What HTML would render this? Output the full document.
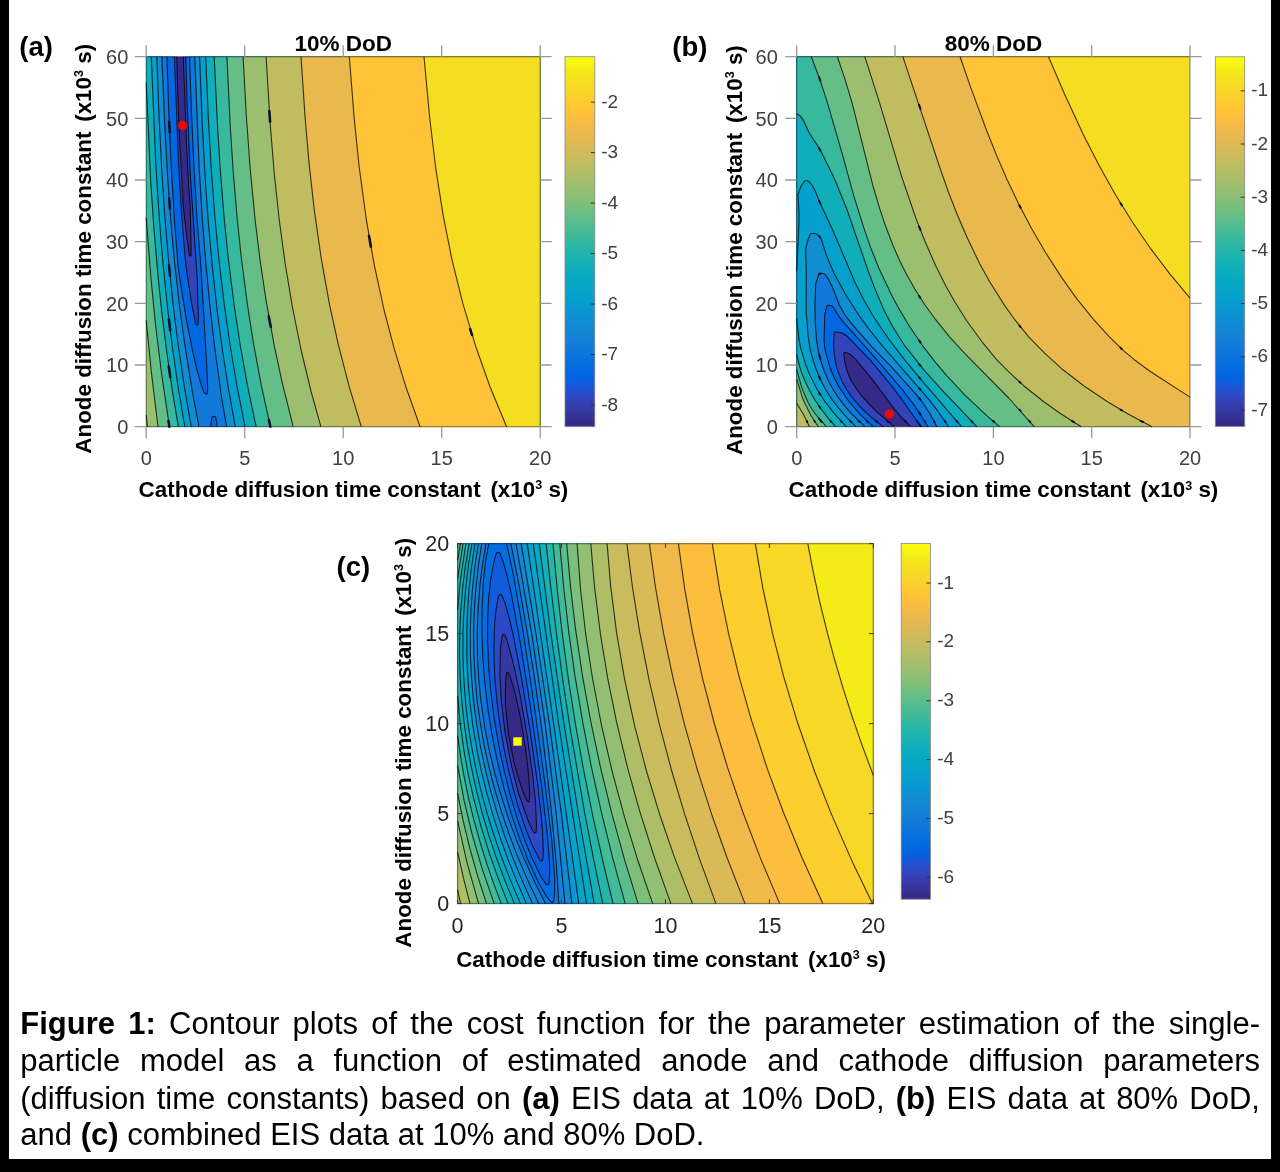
<!DOCTYPE html>
<html><head><meta charset="utf-8"><title>Figure 1</title>
<style>
html,body{margin:0;padding:0;background:#fff;}
body{width:1280px;height:1172px;position:relative;overflow:hidden;font-family:"Liberation Sans",Arial,sans-serif;}
.bl{position:absolute;background:#000;}
svg{position:absolute;left:0;top:0;}
.cl{position:absolute;left:20.3px;width:1239.7px;font-size:31px;line-height:36px;color:#000;white-space:nowrap;}
</style></head><body>
<svg width="1280" height="1000" viewBox="0 0 1280 1000">
<defs><linearGradient id="par" x1="0" y1="1" x2="0" y2="0"><stop offset="0.0078" stop-color="#352a87"/><stop offset="0.0234" stop-color="#363093"/><stop offset="0.0391" stop-color="#3637a0"/><stop offset="0.0547" stop-color="#353dad"/><stop offset="0.0703" stop-color="#3243ba"/><stop offset="0.0859" stop-color="#2c4ac7"/><stop offset="0.1016" stop-color="#2053d4"/><stop offset="0.1172" stop-color="#0f5cdd"/><stop offset="0.1328" stop-color="#0363e1"/><stop offset="0.1484" stop-color="#0268e1"/><stop offset="0.1641" stop-color="#046de0"/><stop offset="0.1797" stop-color="#0871de"/><stop offset="0.1953" stop-color="#0d75dc"/><stop offset="0.2109" stop-color="#1079da"/><stop offset="0.2266" stop-color="#127dd8"/><stop offset="0.2422" stop-color="#1481d6"/><stop offset="0.2578" stop-color="#1485d4"/><stop offset="0.2734" stop-color="#1389d3"/><stop offset="0.2891" stop-color="#108ed2"/><stop offset="0.3047" stop-color="#0c93d2"/><stop offset="0.3203" stop-color="#0998d1"/><stop offset="0.3359" stop-color="#079ccf"/><stop offset="0.3516" stop-color="#06a0cd"/><stop offset="0.3672" stop-color="#06a4ca"/><stop offset="0.3828" stop-color="#06a7c6"/><stop offset="0.3984" stop-color="#07a9c2"/><stop offset="0.4141" stop-color="#0aacbe"/><stop offset="0.4297" stop-color="#0faeb9"/><stop offset="0.4453" stop-color="#15b1b4"/><stop offset="0.4609" stop-color="#1db3af"/><stop offset="0.4766" stop-color="#25b5a9"/><stop offset="0.4922" stop-color="#2eb7a4"/><stop offset="0.5078" stop-color="#38b99e"/><stop offset="0.5234" stop-color="#42bb98"/><stop offset="0.5391" stop-color="#4dbc92"/><stop offset="0.5547" stop-color="#59bd8c"/><stop offset="0.5703" stop-color="#65be86"/><stop offset="0.5859" stop-color="#71bf80"/><stop offset="0.6016" stop-color="#7cbf7b"/><stop offset="0.6172" stop-color="#87bf77"/><stop offset="0.6328" stop-color="#92bf73"/><stop offset="0.6484" stop-color="#9cbf6f"/><stop offset="0.6641" stop-color="#a5be6b"/><stop offset="0.6797" stop-color="#aebe67"/><stop offset="0.6953" stop-color="#b7bd64"/><stop offset="0.7109" stop-color="#c0bc60"/><stop offset="0.7266" stop-color="#c8bc5d"/><stop offset="0.7422" stop-color="#d1bb59"/><stop offset="0.7578" stop-color="#d9ba56"/><stop offset="0.7734" stop-color="#e1b952"/><stop offset="0.7891" stop-color="#e9b94e"/><stop offset="0.8047" stop-color="#f1b94a"/><stop offset="0.8203" stop-color="#f8bb44"/><stop offset="0.8359" stop-color="#fdbe3d"/><stop offset="0.8516" stop-color="#ffc337"/><stop offset="0.8672" stop-color="#fec832"/><stop offset="0.8828" stop-color="#fcce2e"/><stop offset="0.8984" stop-color="#fad32a"/><stop offset="0.9141" stop-color="#f7d826"/><stop offset="0.9297" stop-color="#f5de21"/><stop offset="0.9453" stop-color="#f5e41d"/><stop offset="0.9609" stop-color="#f5eb18"/><stop offset="0.9766" stop-color="#f6f313"/><stop offset="0.9922" stop-color="#f9fb0e"/></linearGradient></defs>
<g><rect x="146.2" y="56.7" width="394" height="370" fill="#352a87"/>
<path fill="#3243ba" fill-rule="evenodd" d="M146.2 56.7L176.8 56.7L177.2 77.8L179.2 130.8L183.2 205.9L187.2 240.8L189.5 255.7L190.2 256.1L191 255.7L191.1 247.7L190.2 206.7L188.6 184.7L186.6 145.7L183.3 56.7L540.2 56.7L540.2 426.7L146.2 426.7L146.2 57.7Z"/>
<path fill="#0268e1" fill-rule="evenodd" d="M146.2 56.7L174.4 56.7L178.5 162.7L181.5 212.7L184.6 251.7L186.2 267.9L191.6 303.7L195.5 322.7L196.3 324.7L197.2 325.1L198 324.7L198.3 315.7L197.2 278.7L190.2 172.4L187.2 105.9L185.7 56.7L540.2 56.7L540.2 426.7L146.2 426.7L146.2 57.7Z"/>
<path fill="#1079da" fill-rule="evenodd" d="M146.2 56.7L166.9 56.7L169.2 123.7L171.2 166.8L174.2 216.8L178.2 267.9L186.2 318.8L193.2 353.9L197.2 370.8L201.5 385.7L204.3 392.7L206.2 394.1L207.1 393.7L207.7 389.7L207 370.7L201 268.7L197.2 221.2L194.2 172.5L191.2 106L189.6 56.7L540.2 56.7L540.2 426.7L217 426.7L216.6 421.7L215.8 417.7L215.2 416.7L214.2 416.3L212.3 416.7L211.6 418.7L210.7 426.7L146.2 426.7L146.2 57.7Z"/>
<path fill="#108ed2" fill-rule="evenodd" d="M146.2 56.7L161.9 56.7L164.7 123.7L167.6 176.7L170.6 218.7L174.7 263.7L179.6 306.7L184.8 344.7L192.2 390.8L199 426.7L146.2 426.7L146.2 57.7ZM194.7 56.7L540.2 56.7L540.2 426.7L226.6 426.7L221.6 397.7L214.6 346.7L209.7 303.7L205.2 256.1L202.2 217L199.2 167.7L194.7 57.7Z"/>
<path fill="#06a0cd" fill-rule="evenodd" d="M146.2 56.7L156.8 56.7L158.9 112.7L161.6 167.7L164.6 213.7L168.2 257L173.2 305.6L178.2 345.5L184.2 386L191.2 426.7L146.2 426.7L146.2 57.7ZM199.6 56.7L540.2 56.7L540.2 426.7L235.3 426.7L228.2 387.2L222.2 348.5L217.2 310.8L212.2 265.6L208.2 220.6L205.2 178.2L202.2 123.1L199.6 57.7Z"/>
<path fill="#0faeb9" fill-rule="evenodd" d="M146.2 56.7L151.3 56.7L155.8 164.7L158.8 211.7L162.7 260.7L167.5 307.7L172.6 348.7L178.5 389.7L184.8 426.7L146.2 426.7L146.2 57.7ZM205.7 56.7L540.2 56.7L540.2 426.7L245 426.7L237.2 387.2L230.2 346L224.2 304.1L219.2 262L215.2 220.9L211.2 168.2L208.2 115.8L205.7 57.7Z"/>
<path fill="#38b99e" fill-rule="evenodd" d="M214.2 56.7L540.2 56.7L540.2 426.7L256.1 426.7L247.2 384.1L240.2 345L234.2 305.7L228.2 257.9L224.2 218.6L220.2 168.9L217.2 120.1L214.3 57.7ZM146.2 82.7L150.7 181.7L153.8 226.7L157.7 272.7L161.7 311.7L166.7 351.7L172.6 392.7L178.4 426.7L146.2 426.7L146.2 83.7Z"/>
<path fill="#65be86" fill-rule="evenodd" d="M226.9 56.7L540.2 56.7L540.2 426.7L270.4 426.7L261.2 384.8L253.2 341.6L247.2 303.1L241.2 256.8L237.2 218.8L233.2 171.2L230.2 125.2L226.9 57.7ZM146.2 217.7L150.7 275.7L155.6 325.7L161.7 374.7L169.4 426.7L146.2 426.7L146.2 218.7Z"/>
<path fill="#9cbf6f" fill-rule="evenodd" d="M243.1 56.7L540.2 56.7L540.2 426.7L293.2 426.7L282.2 382.7L274.2 345.3L266.2 301.1L260.2 261.1L255.2 220.6L250.2 169L246.2 114L243.1 57.7ZM146.2 320.7L152.2 379.7L158 426.7L146.2 426.7L146.2 321.7Z"/>
<path fill="#c0bc60" fill-rule="evenodd" d="M266.1 56.7L540.2 56.7L540.2 426.7L320.9 426.7L311.2 392L301.2 350.5L292.2 305.9L285.2 263.9L279.2 219.6L274.2 172.7L270.2 124L266.1 57.7ZM146.2 415.7L147.5 426.7L146.2 426.7L146.2 416.7Z"/>
<path fill="#e9b94e" fill-rule="evenodd" d="M301 56.7L540.2 56.7L540.2 426.7L361.3 426.7L349.2 386.7L338.2 344.1L329.2 302.8L321.2 258.2L314.2 209.3L309.2 164.6L305.2 118.7L301.1 57.7Z"/>
<path fill="#ffc337" fill-rule="evenodd" d="M349.3 56.7L540.2 56.7L540.2 426.7L420.1 426.7L406.2 387.8L394.2 348.7L384.2 310.5L374.2 264.6L366.2 218.8L359.2 167L354.2 118.4L349.4 57.7Z"/>
<path fill="#f5de21" fill-rule="evenodd" d="M424 56.7L540.2 56.7L540.2 426.7L506.6 426.7L497.2 404.7L488.5 382.7L480.2 359.7L472.6 336.7L463.7 306.7L455.7 275.7L448.5 243.7L442.3 210.7L436.9 176.7L432.3 141.7L428.2 103.7L424.1 57.7Z"/>
<path fill="none" stroke="#000" stroke-opacity="0.75" stroke-width="1.1" stroke-linejoin="round" d="M176.8 56.7L177.2 77.8L179.2 130.8L183.2 205.9L187.2 240.8L189.5 255.7L190.2 256.1L191 255.7L191.1 247.7L190.2 206.7L188.6 184.7L186.6 145.7L183.3 56.7M174.4 56.7L178.5 162.7L181.5 212.7L184.6 251.7L186.2 267.9L191.6 303.7L195.5 322.7L196.3 324.7L197.2 325.1L198 324.7L198.3 315.7L197.2 278.7L190.2 172.4L187.2 105.9L185.7 56.7M166.9 56.7L169.2 123.7L171.2 166.8L174.2 216.8L178.2 267.9L186.2 318.8L193.2 353.9L197.2 370.8L201.5 385.7L204.3 392.7L206.2 394.1L207.1 393.7L207.7 389.7L207 370.7L201 268.7L197.2 221.2L194.2 172.5L191.2 106L189.6 56.7M217 426.7L216.6 421.7L215.8 417.7L215.2 416.7L214.2 416.3L212.3 416.7L211.6 418.7L210.7 426.7M161.9 56.7L164.7 123.7L167.6 176.7L170.6 218.7L174.7 263.7L179.6 306.7L184.8 344.7L192.2 390.8L199 426.7M226.6 426.7L221.6 397.7L214.6 346.7L209.7 303.7L205.2 256.1L202.2 217L199.2 167.7L194.7 56.7M156.8 56.7L158.9 112.7L161.6 167.7L164.6 213.7L168.2 257L173.2 305.6L178.2 345.5L184.2 386L191.2 426.7M235.3 426.7L228.2 387.2L222.2 348.5L217.2 310.8L212.2 265.6L208.2 220.6L205.2 178.2L202.2 123.1L199.6 56.7M151.3 56.7L155.8 164.7L158.8 211.7L162.7 260.7L167.5 307.7L172.6 348.7L178.5 389.7L184.8 426.7M245 426.7L237.2 387.2L230.2 346L224.2 304.1L219.2 262L215.2 220.9L211.2 168.2L208.2 115.8L205.7 56.7M146.2 82.6L150.7 181.7L153.8 226.7L157.7 272.7L161.7 311.7L166.7 351.7L172.6 392.7L178.4 426.7M256.1 426.7L247.2 384.1L240.2 345L234.2 305.7L228.2 257.9L224.2 218.6L220.2 168.9L217.2 120.1L214.2 56.7M146.2 217.5L150.7 275.7L155.6 325.7L161.7 374.7L169.4 426.7M270.4 426.7L261.2 384.8L253.2 341.6L247.2 303.1L241.2 256.8L237.2 218.8L233.2 171.2L230.2 125.2L226.9 56.7M146.2 320.4L151.2 370.9L158 426.7M293.2 426.7L282.2 382.7L274.2 345.3L266.2 301.1L260.2 261.1L255.2 220.6L250.2 169L246.2 114L243.1 56.7M146.2 415.2L147.5 426.7M320.9 426.7L311.2 392L301.2 350.5L292.2 305.9L285.2 263.9L279.2 219.6L274.2 172.7L270.2 124L266.1 56.7M361.3 426.7L349.2 386.7L338.2 344.1L329.2 302.8L321.2 258.2L314.2 209.3L309.2 164.6L305.2 118.7L301 56.7M420.1 426.7L406.2 387.8L394.2 348.7L384.2 310.5L374.2 264.6L366.2 218.8L359.2 167L354.2 118.4L349.3 56.7M506.6 426.7L490 386.7L475.5 345.7L462.9 303.7L452.2 260.7L443.2 215.7L435.8 168.7L429.8 118.7L424 56.7"/>
<path fill="none" stroke="#06102e" stroke-width="2.5" stroke-linecap="round" stroke-linejoin="round" d="M169.2 122L169.7 132.4M169.2 198.4L169.9 208.7M169 265L170 276M168.9 319.4L170.2 330.4M168.7 366.4L170.3 377.4M168.5 421L169.4 426.7M270.4 426.7L268.9 420M270.8 327L268.8 316.4M270.1 121.7L269.3 111M370.9 246.7L369 235.7M472 335L470.2 329.1"/></g>
<g><rect x="796.7" y="56.7" width="393.3" height="370" fill="#352a87"/>
<path fill="#3243ba" fill-rule="evenodd" d="M796.7 56.7L1190 56.7L1190 426.7L910.8 426.7L901.9 417.7L894.1 408.7L871.7 378.7L855.1 358.7L849.7 354L844.7 352.3L843.8 352.7L844.7 361.4L846.7 369.7L850.7 379.7L855.7 387.8L860.7 394.8L871.5 406.7L878.7 413.7L894.3 426.7L796.7 426.7L796.7 57.7Z"/>
<path fill="#0268e1" fill-rule="evenodd" d="M796.7 56.7L1190 56.7L1190 426.7L921 426.7L902.7 400.7L890.7 384.7L870.7 360.7L846.6 335.7L841.3 332.7L834.7 331.7L834.2 332.7L833.6 342.7L833.7 348.4L834.7 357.7L835.7 363.7L837.7 370.7L842.7 382.9L850.7 395.8L860.7 407.5L871.7 417.7L883.4 426.7L796.7 426.7L796.7 57.7Z"/>
<path fill="#1079da" fill-rule="evenodd" d="M796.7 56.7L1190 56.7L1190 426.7L928.1 426.7L915.3 406.7L902.3 389.7L881.1 364.7L843.1 321.7L839.2 316.7L833.6 307.7L831.5 305.7L828.7 305.3L827 305.7L824.7 314.7L824.1 340.7L824.6 346.7L825.7 352.3L830.3 368.7L834.2 377.7L838.3 385.7L848.3 400.7L859.4 413.7L873 426.7L796.7 426.7L796.7 57.7Z"/>
<path fill="#108ed2" fill-rule="evenodd" d="M796.7 56.7L1190 56.7L1190 426.7L936.8 426.7L932.2 417.7L926.8 408.7L922.7 402.7L915.7 393.8L891.2 366.7L871.7 346.6L856.7 329.7L847.7 318.7L843.7 312.8L839.2 304.7L832.7 287.7L828.7 279.4L825.2 274.7L824 273.7L821.7 273.2L819.5 273.7L818.8 274.7L815.7 283.7L814.9 305.7L815.2 321.7L816.6 340.7L818.2 350.7L821.1 361.7L824 370.7L828.4 380.7L832.6 388.7L837.7 396.7L843.6 404.7L850.4 412.7L864.8 426.7L796.7 426.7L796.7 57.7Z"/>
<path fill="#06a0cd" fill-rule="evenodd" d="M796.7 56.7L1190 56.7L1190 426.7L948.6 426.7L938.2 411.7L929 399.7L881.3 344.7L869.4 329.7L859.8 316.7L845.7 294.8L833.8 272.7L826.2 254.7L821.1 238.7L817.4 234.7L815.6 233.7L813.7 233.3L810.8 233.7L810 234.7L807.7 240.7L805.6 249.7L806.3 270.7L806.2 311.7L808.2 336.7L810 348.7L813.2 360.7L816.2 369.7L821 380.7L825.2 388.7L832.1 399.7L838.2 407.7L846 416.7L855.9 426.7L796.7 426.7L796.7 57.7Z"/>
<path fill="#0faeb9" fill-rule="evenodd" d="M796.7 56.7L1190 56.7L1190 426.7L961.5 426.7L922.7 381.7L903.7 358.7L889.2 339.7L872.9 315.7L863.7 299.7L854.7 281.7L831.7 227.7L820.7 204.6L815.1 190.7L812.5 185.7L810.1 182.7L807.7 180.8L804.7 180.8L801.2 185.7L797.9 194.7L799 212.7L799 221.7L796.7 271.4L796.7 57.7ZM796.7 318.7L799 339.7L800.7 348.2L805.7 364.8L809.7 374.8L816.7 388.7L825 401.7L834.3 413.7L846.2 426.7L796.7 426.7L796.7 319.7Z"/>
<path fill="#38b99e" fill-rule="evenodd" d="M796.7 56.7L1190 56.7L1190 426.7L976.8 426.7L929.7 376.7L913.7 357.5L904.7 345.7L898.7 336.7L892.7 326.7L884.7 311.5L878.1 296.7L870.3 276.7L846.7 208.7L835.4 180.7L822.7 154.7L818.7 147.5L809.2 132.7L803.6 120.7L799.8 115.7L797.7 114.1L796.7 113.9L796.7 57.7ZM796.7 354.7L799.7 366.9L801.7 372.9L805.7 382.7L809.7 390.7L814.8 399.7L820.7 408.5L827.7 417.7L835.4 426.7L796.7 426.7L796.7 355.7Z"/>
<path fill="#65be86" fill-rule="evenodd" d="M811.3 56.7L1190 56.7L1190 426.7L999.6 426.7L986.7 415.7L973.7 403.7L958.7 388.7L946.7 375.7L931.7 357.6L919.7 341.6L909.7 326.7L900.7 311.8L890.7 293.3L882.7 276.7L872.7 252.8L862.7 224.6L853.7 195.6L842.2 153.7L827.4 102.7L820 79.7L811.7 57.7ZM796.7 370.7L801.7 387.6L807.7 401.7L811.7 408.7L815.7 414.5L826.3 426.7L796.7 426.7L796.7 371.7Z"/>
<path fill="#9cbf6f" fill-rule="evenodd" d="M837.4 56.7L1190 56.7L1190 426.7L1034.2 426.7L1008.7 398L964.9 353.7L949.3 336.7L935.7 319.7L924.8 304.7L914.7 288.8L905.7 272.7L899.7 260.7L892.7 244.8L884.7 223.7L879.7 208.7L872.7 184.8L852.3 103.7L846 82.7L837.7 57.6ZM796.7 379.7L802.1 396.7L805 403.7L811.1 415.7L818.3 426.7L796.7 426.7L796.7 380.7Z"/>
<path fill="#c0bc60" fill-rule="evenodd" d="M864.8 56.7L1190 56.7L1190 426.7L1081.3 426.7L1057.7 411.7L1034.7 394.7L1014.7 377.7L995.7 358.7L982.7 342.7L973.7 330.7L957.7 306.8L942.7 279.9L935.7 265.7L927.7 247.9L915.7 217.7L905.7 189.2L893.7 150.8L878.3 98.7L865.1 57.7ZM796.7 403.7L803.1 413.7L809.5 426.7L796.7 426.7L796.7 404.7Z"/>
<path fill="#e9b94e" fill-rule="evenodd" d="M902.8 56.7L1190 56.7L1190 426.7L1152 426.7L1136.7 418.7L1115.6 406.7L1099.8 396.7L1083.7 385.7L1061.7 368.7L1050.4 358.7L1037.7 346.3L1027.7 335.7L1018.6 324.7L1002.7 302.6L986.7 276.5L974.7 253.7L962.7 227.5L951.7 200.7L944.7 181.8L903.2 57.7Z"/>
<path fill="#ffc337" fill-rule="evenodd" d="M960.1 56.7L1190 56.7L1190 397.1L1150.7 371.7L1134.3 359.7L1123.5 350.7L1108.7 336.2L1093.7 319.7L1076.7 298.6L1061.7 277.6L1045.7 252.7L1031.7 228.7L1018.7 204L1006.7 178.7L996.7 155.6L986.7 130.8L969.7 84.6L960.4 57.7Z"/>
<path fill="#f5de21" fill-rule="evenodd" d="M1048.5 56.7L1190 56.7L1190 298.1L1169.6 273.7L1150.7 248.7L1132.2 221.7L1114.9 193.7L1098.7 164.8L1083.4 134.7L1064.8 94.7L1048.7 57.3Z"/>
<path fill="none" stroke="#000" stroke-opacity="0.75" stroke-width="1.1" stroke-linejoin="round" d="M910.8 426.7L901.9 417.7L894.1 408.7L871.7 378.7L855.1 358.7L849.7 354L844.7 352.3L843.8 352.7L844.7 361.4L846.7 369.7L850.7 379.7L855.7 387.8L860.7 394.8L871.5 406.7L878.7 413.7L894.3 426.7M921 426.7L902.7 400.7L890.7 384.7L870.7 360.7L846.6 335.7L841.3 332.7L834.7 331.7L834.2 332.7L833.6 342.7L833.7 348.4L834.7 357.7L835.7 363.7L837.7 370.7L842.7 382.9L850.7 395.8L860.7 407.5L871.7 417.7L883.4 426.7M928.1 426.7L915.3 406.7L902.3 389.7L881.1 364.7L843.1 321.7L839.2 316.7L833.6 307.7L831.5 305.7L828.7 305.3L827 305.7L824.7 314.7L824.1 340.7L824.6 346.7L825.7 352.3L830.3 368.7L834.2 377.7L838.3 385.7L848.3 400.7L859.4 413.7L873 426.7M936.8 426.7L932.2 417.7L926.8 408.7L922.7 402.7L915.7 393.8L891.2 366.7L871.7 346.6L856.7 329.7L847.7 318.7L843.7 312.8L839.2 304.7L832.7 287.7L828.7 279.4L825.2 274.7L824 273.7L821.7 273.2L819.5 273.7L818.8 274.7L815.7 283.7L814.9 305.7L815.2 321.7L816.6 340.7L818.2 350.7L821.1 361.7L824 370.7L828.4 380.7L832.6 388.7L837.7 396.7L843.6 404.7L850.4 412.7L864.8 426.7M948.6 426.7L938.2 411.7L929 399.7L881.3 344.7L869.4 329.7L859.8 316.7L845.7 294.8L833.8 272.7L826.2 254.7L821.1 238.7L817.4 234.7L815.6 233.7L813.7 233.3L810.8 233.7L810 234.7L807.7 240.7L805.6 249.7L806.3 270.7L806.2 311.7L808.2 336.7L810 348.7L813.2 360.7L816.2 369.7L821 380.7L825.2 388.7L832.1 399.7L838.2 407.7L846 416.7L855.9 426.7M796.7 318.5L799 339.7L800.7 348.2L805.7 364.8L809.7 374.8L816.7 388.7L825 401.7L834.3 413.7L846.2 426.7M961.5 426.7L922.7 381.7L903.7 358.7L889.2 339.7L872.9 315.7L863.7 299.7L854.7 281.7L831.7 227.7L820.7 204.6L815.1 190.7L812.5 185.7L810.1 182.7L807.7 180.8L804.7 180.8L801.2 185.7L797.9 194.7L799 212.7L799 221.7L796.7 271.4M796.7 354.1L799.7 366.9L801.7 372.9L805.7 382.7L809.7 390.7L814.8 399.7L820.7 408.5L827.7 417.7L835.4 426.7M976.8 426.7L940.7 388.7L923.7 369.7L904.7 345.7L892.7 326.7L883.7 309.4L875.3 289.7L868.1 270.7L846.7 208.7L834.7 179.2L822.7 154.7L818.7 147.5L809.2 132.7L803.6 120.7L799.8 115.7L797.7 114.1L796.7 113.9M796.7 369.7L801.7 387.6L807.7 401.7L811.7 408.7L815.7 414.5L826.3 426.7M999.6 426.7L986.7 415.7L964.7 394.8L946.7 375.7L935.7 362.7L922.7 345.8L909.7 326.7L897.7 306.6L890.7 293.3L878.7 267.7L870.7 247.6L864.7 230.6L853.7 195.6L842.2 153.7L827.1 101.7L819.6 78.7L811.3 56.7M796.7 379.2L802.1 396.7L805 403.7L811.1 415.7L818.3 426.7M1034.2 426.7L1008.7 398L964.9 353.7L949.3 336.7L935.7 319.7L924.8 304.7L914.7 288.8L905.7 272.7L899.7 260.7L892.7 244.8L884.7 223.7L879.7 208.7L872.7 184.8L852.3 103.7L845.1 79.7L837.4 56.7M796.7 403.2L803.6 414.7L809.5 426.7M1081.3 426.7L1060.7 413.7L1043.8 401.7L1023.7 385.7L1008.5 371.7L995.7 358.7L982.7 342.7L966.7 320.7L954.7 301.7L945.7 285.7L935.7 265.7L924.7 240.8L915.7 217.7L901.7 176.8L879.2 101.7L864.8 56.7M1152 426.7L1127.6 413.7L1107.5 401.7L1083.7 385.7L1061.7 368.7L1044.1 352.7L1028.7 336.8L1014.8 319.7L1004.7 305.6L989.7 281.7L979.7 263.7L967.7 238.8L957.7 215.7L948.7 192.8L940.7 170.3L902.8 56.7M1190 397.1L1150.7 371.7L1134.3 359.7L1123.5 350.7L1108.7 336.2L1093.7 319.7L1076.7 298.6L1061.7 277.6L1045.7 252.7L1031.7 228.7L1018.7 204L1006.7 178.7L996.7 155.6L986.7 130.8L969.7 84.6L960.1 56.7M1190 298.1L1169.6 273.7L1150.7 248.7L1132.2 221.7L1114.9 193.7L1098.7 164.7L1082.9 133.7L1064.4 93.7L1048.5 56.7"/>
<path fill="none" stroke="#06102e" stroke-width="2.0" stroke-linecap="round" stroke-linejoin="round" d="M906.2 422.2L905 420.9M887.1 420.9L888.7 422.2M920.5 426L919.3 424.2M917.7 422L917 421M875.7 420.9L877.2 422.1M920.4 414.4L919.1 412.4M925.3 422L924.6 420.9M866.7 420.9L868 422.2M820.4 273.5L819.1 274.2M819.1 354.4L820.3 359M920.5 399.7L919.3 398.2M934.5 422L934 421M858.5 420.9L859.7 422M820.2 237.4L819.3 236.4M819.1 376.7L820.3 379.4M920.3 389.5L919.2 388.2M945.5 422L944.7 420.9M850 420.9L851.3 422.1M819.1 392.7L820.3 394.7M840.7 420.9L841.7 422M820.3 203.7L819 200.7M920.3 378.9L919.1 377.5M957.5 422.1L956.5 420.9M819.1 406.2L820.3 408M830.3 420.9L831.2 422M820.4 150.4L819 148M920.4 365.7L919.1 364.2M972.5 422.2L971.3 420.9M819.1 418.7L820.3 420.2M820.9 420.9L821.9 422M820.3 80.7L819 77M920.4 342.4L919.2 340.7M994.2 422.1L992.7 420.8M814.3 421L815 422M920.3 298L919.1 296M1020.5 410.9L1019.5 409.7M1030.2 422L1029.3 420.9M806.9 421.1L807.3 422M920.4 230L919.1 226.7M1020.4 382.7L1019.5 381.9M1073.9 422.2L1072 421M920.4 108.7L919.1 104.7M1020.5 327L1019.5 325.7M1121.7 410.3L1120.6 409.7M1143 422L1140.7 420.8M1020.6 207.7L1019.4 205.4M1121.7 348.9L1120.5 347.8M1121.9 205.4L1120.5 203.2"/></g>
<g><rect x="457.6" y="543.6" width="415.7" height="360" fill="#352a87"/>
<path fill="#3637a0" fill-rule="evenodd" d="M457.6 543.6L873.3 543.6L873.3 903.6L457.6 903.6L457.6 544.6ZM507.6 672.1L506.8 672.6L505.9 677.6L505.3 694.6L505.6 707L508.6 734.6L509.3 736.6L509.6 740.7L510.3 742.6L511.6 751.3L516.6 772.3L522.6 790.9L525.8 798.6L527.6 801.6L528.6 802L529.3 801.6L529.6 788.6L527.6 764.5L524.6 742.4L520.6 719L516.6 699.8L512.6 684.3L508.4 672.6Z"/>
<path fill="#2c4ac7" fill-rule="evenodd" d="M457.6 543.6L873.3 543.6L873.3 903.6L457.6 903.6L457.6 544.6ZM503.6 634.1L502.7 634.6L502.1 636.6L500.6 646.8L499.8 673.6L501.2 700.6L505.1 732.6L510.1 759.6L517.6 789.8L524.6 811.7L529.6 824.2L533.8 832.6L534.6 832.9L536 832.6L536.2 831.6L536.5 818.6L534.6 792.1L529.1 748.6L523.1 711.6L516.6 677.5L509.6 648.6L506.4 638.6L504.5 634.6Z"/>
<path fill="#0f5cdd" fill-rule="evenodd" d="M457.6 543.6L873.3 543.6L873.3 903.6L457.6 903.6L457.6 544.6ZM500.6 594.1L498.9 595.6L498 598.6L495.6 613L494.6 624.2L493.9 646.6L494.2 664.6L495.3 683.6L497.2 703.6L500.1 725.6L503 743.6L507 763.6L512 784.6L517.3 803.6L522.6 820.1L528.6 836.4L535.6 852.2L539 858.6L540.7 860.6L541.6 861L542.5 860.6L543.1 856.6L543.2 848.6L542.6 831.2L538.6 791.9L532.2 744.6L523.6 690.4L514.6 641.7L507.6 611.8L504.2 600.6L501.5 594.6Z"/>
<path fill="#046de0" fill-rule="evenodd" d="M457.6 543.6L873.3 543.6L873.3 903.6L457.6 903.6L457.6 544.6ZM497.6 552.4L497 552.6L496 554.6L494.2 560.6L490.6 579.4L488.6 598.6L487.6 620.6L487.6 642.6L488.7 667.6L491 693.6L494.5 720.6L499 746.6L504.3 771.6L510.6 796.3L517.6 819.7L525.6 842.5L532.6 859.6L541.6 877.7L546.4 884.6L547.6 885L548.5 884.6L549.1 882.6L549.7 872.6L549.6 864.5L547.6 836.9L541.6 785.6L532.6 721.6L521.6 650.7L512.6 600.5L507.6 577.6L504.6 566.3L501 555.6L499.5 552.6L498.6 552.2Z"/>
<path fill="#0d75dc" fill-rule="evenodd" d="M457.6 543.6L488.6 543.6L488.4 546.6L487.6 548.6L487.5 551.6L486.6 554.5L485.6 561.2L483.6 578.7L482 608.6L481.9 632.6L482.9 658.6L485 684.6L488 709.6L492 734.6L497.2 760.6L504 788.6L511.5 814.6L519.6 838.6L528.6 861.5L538.6 882.8L546.6 896.6L550.6 901.6L551.6 902.5L552.6 902.5L553.4 901.6L553.8 899.6L554.6 893.6L554.6 876.5L551.6 838.7L545.6 788.2L534.1 704.6L522.6 628.3L513.6 576L506.6 543.6L873.3 543.6L873.3 903.6L457.6 903.6L457.6 544.6Z"/>
<path fill="#1481d6" fill-rule="evenodd" d="M457.6 543.6L485.9 543.6L482 567.6L479.9 585.6L478 610.6L477.2 634.6L477.6 660.4L478.6 677.6L480.6 698.6L484.6 726.3L488.6 747.3L494.6 772.7L500.6 794L508.2 817.6L517.1 841.6L524.9 860.6L534.9 882.6L545.5 903.6L457.6 903.6L457.6 544.6ZM510.9 543.6L873.3 543.6L873.3 903.6L558.8 903.6L556.3 863.6L552.1 818.6L547.1 772.6L541.4 726.6L534.6 678.7L527.1 631.6L519.1 585.6L511.1 544.6Z"/>
<path fill="#1389d3" fill-rule="evenodd" d="M457.6 543.6L481.8 543.6L478.6 564.1L475.6 591.1L474.2 611.6L473.6 633.6L473.9 655.6L475.1 678.6L477.2 700.6L480.2 722.6L484.1 744.6L489.1 767.6L494.6 789L501.6 812.3L509.6 835.6L517.6 856.6L527.6 880.1L538.6 903.6L457.6 903.6L457.6 544.6ZM516 543.6L873.3 543.6L873.3 903.6L565 903.6L556.1 812.6L545.1 723.6L531.6 632.9L516.2 544.6Z"/>
<path fill="#0998d1" fill-rule="evenodd" d="M457.6 543.6L478.4 543.6L475 565.6L472.5 588.6L470.9 610.6L470.2 633.6L470.4 655.6L471.5 677.6L473.4 699.6L476.4 722.6L480.1 744.6L484.9 767.6L490.3 789.6L497 812.6L504.2 834.6L513.1 858.6L522.1 880.6L532.5 903.6L457.6 903.6L457.6 544.6ZM521.2 543.6L873.3 543.6L873.3 903.6L571.9 903.6L561.2 812.6L549.2 722.6L536.1 634.6L521.4 544.6Z"/>
<path fill="#06a4ca" fill-rule="evenodd" d="M457.6 543.6L475 543.6L471.1 570.6L468.4 597.6L467 622.6L466.8 647.6L467.9 677.6L470 702.6L473 726.6L477.1 750.6L481 769.6L486.1 790.6L497.2 828.6L510 864.6L518.1 884.6L526.5 903.6L457.6 903.6L457.6 544.6ZM527.2 543.6L873.3 543.6L873.3 903.6L578.8 903.6L554.1 726.6L527.4 544.6Z"/>
<path fill="#07a9c2" fill-rule="evenodd" d="M457.6 543.6L471.9 543.6L468.6 564.2L465.6 589.6L463.6 615.6L462.8 645.6L463.4 670.6L464.6 691.6L467.6 720.3L471.6 746.6L475.6 767.4L479.6 785L484.6 804.4L490.6 824.9L503.6 862.7L511.6 883L520.4 903.6L457.6 903.6L457.6 544.6ZM533.2 543.6L873.3 543.6L873.3 903.6L586.5 903.6L558.6 723.2L533.3 544.6Z"/>
<path fill="#15b1b4" fill-rule="evenodd" d="M457.6 543.6L469 543.6L465 568.6L462.1 593.6L460.3 618.6L459.5 643.6L459.8 668.6L461.1 692.6L463.3 716.6L466.9 742.6L470.2 761.6L474.3 781.6L479.2 801.6L485 822.6L491.2 842.6L498.1 862.6L506.1 883.6L514.4 903.6L457.6 903.6L457.6 544.6ZM539.2 543.6L873.3 543.6L873.3 903.6L594.2 903.6L578.6 814.8L563.6 721.3L550.6 631.5L539.3 544.6Z"/>
<path fill="#25b5a9" fill-rule="evenodd" d="M457.6 543.6L465.9 543.6L460.6 578.6L457.6 609.8L457.6 544.6ZM546.1 543.6L873.3 543.6L873.3 903.6L602.8 903.6L593.6 859.2L584.6 812.5L569.6 725.2L562.6 678.7L556.6 634.8L550.6 585.6L546.2 544.6ZM457.6 696.6L460.2 723.6L464 750.6L468.1 773.6L474.2 800.6L481.1 826.6L489.1 852.6L498.3 878.6L508.1 903.6L457.6 903.6L457.6 697.6Z"/>
<path fill="#42bb98" fill-rule="evenodd" d="M457.6 543.6L463 543.6L457.6 578.7L457.6 544.6ZM553 543.6L873.3 543.6L873.3 903.6L613.1 903.6L603.6 864.5L592.6 815L582.6 764.6L575.6 725L568.6 680.5L562.6 636.4L557.6 593L553.1 544.6ZM457.6 735.6L460.6 756.6L464.5 778.6L468.7 798.6L473.8 819.6L479.6 840.7L486.1 861.6L493.3 882.6L501.2 903.6L457.6 903.6L457.6 736.6Z"/>
<path fill="#59bd8c" fill-rule="evenodd" d="M457.6 543.6L460.5 543.6L457.6 560.4L457.6 544.6ZM559.8 543.6L873.3 543.6L873.3 903.6L625.2 903.6L612.6 857.6L601.6 813.1L591.6 767.9L582.6 721.6L574.6 673.6L568.6 630.6L563.6 586.6L559.9 544.6ZM457.6 765.6L464.1 800.6L472.2 834.6L482.1 868.6L494.2 903.6L457.6 903.6L457.6 766.6Z"/>
<path fill="#7cbf7b" fill-rule="evenodd" d="M566.7 543.6L873.3 543.6L873.3 903.6L638.1 903.6L624.6 859.8L612.6 816.6L600.6 767.8L591.6 725.8L583.6 682.5L576.6 637L570.6 587.6L566.8 544.6ZM457.6 793.6L463.3 821.6L470.1 849.6L478.1 877.6L486.5 903.6L457.6 903.6L457.6 794.6Z"/>
<path fill="#92bf73" fill-rule="evenodd" d="M577.1 543.6L873.3 543.6L873.3 903.6L652.7 903.6L637.6 859.7L624.6 817.4L612.6 773.1L601.6 725.8L592.6 679L585.6 633.3L580.6 590L577.1 544.6ZM457.6 821.6L467 862.6L478.6 903.6L457.6 903.6L457.6 822.6Z"/>
<path fill="#aebe67" fill-rule="evenodd" d="M590.8 543.6L873.3 543.6L873.3 903.6L670.9 903.6L655.6 861L641.6 817.5L628.6 771.7L617.6 726.6L607.6 677.7L600.6 635.2L594.6 587.6L590.9 544.6ZM457.6 852.6L464.1 880.6L470 903.6L457.6 903.6L457.6 853.6Z"/>
<path fill="#c8bc5d" fill-rule="evenodd" d="M607.1 543.6L873.3 543.6L873.3 903.6L692.5 903.6L674.6 857.6L659.6 814.2L646.6 771.5L634.6 725.6L624.6 679.4L616.6 632.9L610.6 585.6L607.2 544.6ZM457.6 890.6L460.6 903.6L457.6 903.6L457.6 891.6Z"/>
<path fill="#d9ba56" fill-rule="evenodd" d="M626.9 543.6L873.3 543.6L873.3 903.6L715.9 903.6L699.6 859.1L684.6 813.9L671.6 770.5L659.4 724.6L649.2 680.6L640.5 636.6L632.6 588L627 544.6Z"/>
<path fill="#f1b94a" fill-rule="evenodd" d="M649.4 543.6L873.3 543.6L873.3 903.6L745 903.6L729.6 864.5L712.6 817.1L697.6 770.6L685.6 728.6L673.6 680.7L663.6 633.7L655.6 588L649.5 544.6Z"/>
<path fill="#fdbe3d" fill-rule="evenodd" d="M678.4 543.6L873.3 543.6L873.3 903.6L779.7 903.6L760.6 858.6L742.6 811.5L727.6 767.6L714.6 724.5L702.6 678.6L692.6 633.1L684.6 588.4L678.5 544.6Z"/>
<path fill="#fcce2e" fill-rule="evenodd" d="M712.3 543.6L873.3 543.6L873.3 903.6L822.8 903.6L808.6 872.7L791.6 832.9L776.6 794.5L761.6 752L748.6 710.7L736.6 667L726.6 624.6L718.6 583.8L712.4 544.6Z"/>
<path fill="#f7d826" fill-rule="evenodd" d="M755.3 543.6L873.3 543.6L873.3 903.6L872.5 903.6L855.6 868.8L833.6 819.4L814.6 771.5L798.6 725.9L785.6 683.5L772.6 633.7L762.6 586.8L755.5 544.6Z"/>
<path fill="#f5eb18" fill-rule="evenodd" d="M807.8 543.6L873.3 543.6L873.3 775.4L862.6 746.6L852.5 717.6L843.2 688.6L834.6 659.6L826.8 630.6L819.7 601.6L813.4 572.6L808 544.6Z"/>
<path fill="none" stroke="#000" stroke-opacity="0.75" stroke-width="1.1" stroke-linejoin="round" d="M507.6 672.1L506.8 672.6L505.9 677.6L505.3 694.6L505.6 707L508.6 734.6L513.6 760.6L517.6 775.8L523.6 793.6L526.8 800.6L528.6 802L529.3 801.6L529.7 793.6L528.6 774.2L526.6 756.4L523.6 736L519.6 713.7L514.6 691.5L510.1 676.6L508.4 672.6L507.6 672.1M503.6 634.1L502.7 634.6L502.1 636.6L500.6 646.8L499.8 673.6L501.2 700.6L505.1 732.6L511.2 764.6L518.6 793.3L527.6 819.6L532.1 829.6L533.8 832.6L534.6 832.9L536 832.6L536.5 826.6L535.6 803L532.6 774.5L527.1 735.6L520.6 697.7L514.6 668.5L508 643.6L505.2 635.6L503.6 634.1M500.6 594.1L498.9 595.6L498 598.6L495.6 613L494.6 624.2L493.9 646.6L494.2 664.6L495.3 683.6L497.2 703.6L500.1 725.6L504 748.6L508.2 768.6L513.1 788.6L518.2 806.6L525.6 828.6L531.6 843.7L539 858.6L540.7 860.6L541.6 861L542.5 860.6L543 857.6L543.2 850.6L542.6 831.6L541.6 819.6L537.6 783.6L530.1 730.6L521.6 678.8L513.6 637L509.6 619.5L505.6 604.9L502.2 595.6L500.6 594.1M497.6 552.4L497 552.6L496 554.6L494.2 560.6L490.6 579.4L488.6 598.6L487.6 620.6L487.6 642.6L488.7 667.6L491 693.6L494.5 720.6L499 746.6L504.3 771.6L510.6 796.3L517.6 819.7L525.6 842.5L532.6 859.6L541.6 877.7L546.4 884.6L547.6 885L548.5 884.6L549.1 882.6L549.7 872.6L549.6 864.5L547.6 836.9L541.6 785.6L530.6 708L520.6 644.7L511.6 595.5L507.6 577.6L503.6 563L500.1 553.6L499.5 552.6L497.6 552.4M488.6 543.6L488.4 546.6L487.6 548.6L487.5 551.6L486.6 554.5L485.6 561.2L483.6 578.7L482 608.6L481.9 632.6L482.9 658.6L485 684.6L488 709.6L492 734.6L497.2 760.6L504 788.6L511.5 814.6L519.6 838.6L528.6 861.5L538.6 882.8L546.6 896.6L550.6 901.6L551.6 902.5L552.6 902.5L553.4 901.6L553.8 899.6L554.6 893.6L554.6 876.5L551.6 838.7L545.6 788.2L534.1 704.6L522.6 628.3L513.6 576L506.6 543.6M485.9 543.6L482 567.6L479.9 585.6L478 610.6L477.2 634.6L477.6 660.4L478.6 677.6L480.6 698.6L484.6 726.3L488.6 747.3L494.6 772.7L500.6 794L508.2 817.6L517.1 841.6L524.9 860.6L534.9 882.6L545.5 903.6M558.8 903.6L556.3 863.6L552.1 818.6L547.1 772.6L541.4 726.6L534.6 678.7L527.1 631.6L519.1 585.6L510.9 543.6M481.8 543.6L478.6 564.1L475.6 591.1L474.2 611.6L473.6 633.6L473.9 655.6L475.1 678.6L477.2 700.6L480.2 722.6L484.1 744.6L489.1 767.6L494.6 789L501.6 812.3L509.6 835.6L517.6 856.6L527.6 880.1L538.6 903.6M565 903.6L556.1 812.6L545.1 723.6L531.6 632.9L516 543.6M478.4 543.6L475 565.6L472.5 588.6L470.9 610.6L470.2 633.6L470.4 655.6L471.5 677.6L473.4 699.6L476.4 722.6L480.1 744.6L484.9 767.6L490.3 789.6L497 812.6L504.2 834.6L513.1 858.6L522.1 880.6L532.5 903.6M571.9 903.6L561.2 812.6L549.2 722.6L536.1 634.6L521.2 543.6M475 543.6L471.6 566.3L469 589.6L467.4 613.6L466.8 634.6L466.9 657.6L468 680.6L470.1 703.6L473 726.6L477.1 750.6L481 769.6L486.1 790.6L493.1 815.6L500.2 837.6L508.1 859.6L516.9 881.6L526.5 903.6M578.8 903.6L554.1 726.6L527.2 543.6M471.9 543.6L468.6 564.2L465.6 589.2L463.6 615.5L463 632.6L462.9 653.6L463.6 676.3L465.6 702.6L467.6 720.6L471.6 746.6L475.6 767.4L480.6 789.1L486.6 811.5L493.6 834.3L501.6 857.4L510.6 880.6L520.4 903.6M586.5 903.6L558.6 723.2L533.2 543.6M469 543.6L465.3 566.6L462.8 586.6L460.8 609.6L459.7 633.6L459.5 655.6L460.2 678.6L461.8 701.6L464.2 723.6L467.2 744.6L471.4 767.6L476.2 789.6L482.1 812.6L488.9 835.6L496.3 857.6L504.9 880.6L514.4 903.6M594.2 903.6L578.6 814.8L563.6 721.3L550.6 631.5L539.2 543.6M465.9 543.6L460.6 578.6L457.6 609.8M457.6 695.7L460.1 722.6L463.8 749.6L468.1 773.6L474.2 800.6L481.1 826.6L489.1 852.6L498.3 878.6L508.1 903.6M602.8 903.6L593.6 859.2L584.6 812.5L569.6 725.2L562.6 678.7L556.6 634.8L550.6 585.6L546.1 543.6M463 543.6L457.6 578.7M457.6 735.5L460.6 756.6L464.3 777.6L468.6 798.3L473.6 818.9L479.6 840.6L486.1 861.6L493.3 882.6L501.2 903.6M613.1 903.6L603.6 864.5L592.6 815L582.6 764.6L575.6 725L568.6 680.5L562.6 636.4L557.6 593L553 543.6M460.5 543.6L457.6 560.4M457.6 765.4L464.1 800.6L472.2 834.6L482.1 868.6L494.2 903.6M625.2 903.6L612.6 857.6L601.6 813.1L591.6 767.9L582.6 721.6L574.6 673.6L568.6 630.6L563.6 586.6L559.8 543.6M457.6 793.2L463.1 820.6L469.9 848.6L477.8 876.6L486.5 903.6M638.1 903.6L624.6 859.8L611.6 812.7L600.6 767.8L590.6 720.7L582.6 676.6L575.6 629.7L570.6 587.6L566.7 543.6M457.6 821L467 862.6L478.6 903.6M652.7 903.6L637.6 859.7L624.6 817.4L612.6 773.1L601.6 725.8L592.6 679L585.6 633.3L580.6 590L577.1 543.6M457.6 851.9L463.1 876.6L470 903.6M670.9 903.6L654.6 858L639.6 810.9L627.6 767.9L616.6 722.2L607.6 677.7L600.6 635.2L594.6 587.6L590.8 543.6M457.6 889.7L460.6 903.6M692.5 903.6L674.6 857.6L659.6 814.2L646.6 771.5L634.6 725.6L624.6 679.4L616.6 632.9L610.6 585.6L607.1 543.6M715.9 903.6L699.6 859.1L684.6 813.9L671.6 770.5L659.2 723.6L648.8 678.6L639.6 631.6L632.6 588L626.9 543.6M745 903.6L726.6 856.5L711.6 814.2L697.6 770.6L684.6 724.9L673.6 680.7L663.6 633.7L655.6 588L649.4 543.6M779.7 903.6L760.6 858.6L742.6 811.5L727.6 767.6L714.6 724.5L702.6 678.6L692.6 633.1L684.6 588.4L678.4 543.6M822.8 903.6L801.6 856.7L783.6 812.8L767.6 769.6L751.6 720.7L739.6 678.6L728.6 633.6L719.6 589.4L712.3 543.6M872.5 903.6L853.6 864.6L831.6 814.6L814.6 771.5L797.6 722.8L783.6 676.4L772.6 633.7L762.6 586.8L755.3 543.6M873.3 775.4L862.6 746.6L852.5 717.6L843.2 688.6L834.6 659.6L826.8 630.6L819.7 601.6L813.4 572.6L807.8 543.6"/></g>
<circle cx="182.6" cy="125.4" r="4.6" fill="#ff0000"/>
<circle cx="889.4" cy="414.1" r="4.6" fill="#ff0000"/>
<rect x="513.3" y="737.3" width="8.4" height="8.4" fill="#ffff00"/>
<rect x="146.2" y="56.7" width="394" height="370" fill="none" stroke="#000" stroke-opacity="0.35" stroke-width="1.4"/>
<path d="M146.2 426.7V438.2M146.2 56.7V45.2M244.7 426.7V438.2M244.7 56.7V45.2M343.2 426.7V438.2M343.2 56.7V45.2M441.7 426.7V438.2M441.7 56.7V45.2M540.2 426.7V438.2M540.2 56.7V45.2M146.2 426.7H134.7M540.2 426.7H551.7M146.2 365H134.7M540.2 365H551.7M146.2 303.4H134.7M540.2 303.4H551.7M146.2 241.7H134.7M540.2 241.7H551.7M146.2 180H134.7M540.2 180H551.7M146.2 118.4H134.7M540.2 118.4H551.7M146.2 56.7H134.7M540.2 56.7H551.7" stroke="#999" stroke-width="1.3" fill="none"/>
<text x="146.2" y="464.6" text-anchor="middle" fill="#404040" font-family="Liberation Sans, Arial, sans-serif" font-size="20">0</text>
<text x="244.7" y="464.6" text-anchor="middle" fill="#404040" font-family="Liberation Sans, Arial, sans-serif" font-size="20">5</text>
<text x="343.2" y="464.6" text-anchor="middle" fill="#404040" font-family="Liberation Sans, Arial, sans-serif" font-size="20">10</text>
<text x="441.7" y="464.6" text-anchor="middle" fill="#404040" font-family="Liberation Sans, Arial, sans-serif" font-size="20">15</text>
<text x="540.2" y="464.6" text-anchor="middle" fill="#404040" font-family="Liberation Sans, Arial, sans-serif" font-size="20">20</text>
<text x="128.3" y="433.9" text-anchor="end" fill="#404040" font-family="Liberation Sans, Arial, sans-serif" font-size="20">0</text>
<text x="128.3" y="372.2" text-anchor="end" fill="#404040" font-family="Liberation Sans, Arial, sans-serif" font-size="20">10</text>
<text x="128.3" y="310.5" text-anchor="end" fill="#404040" font-family="Liberation Sans, Arial, sans-serif" font-size="20">20</text>
<text x="128.3" y="248.9" text-anchor="end" fill="#404040" font-family="Liberation Sans, Arial, sans-serif" font-size="20">30</text>
<text x="128.3" y="187.2" text-anchor="end" fill="#404040" font-family="Liberation Sans, Arial, sans-serif" font-size="20">40</text>
<text x="128.3" y="125.5" text-anchor="end" fill="#404040" font-family="Liberation Sans, Arial, sans-serif" font-size="20">50</text>
<text x="128.3" y="63.9" text-anchor="end" fill="#404040" font-family="Liberation Sans, Arial, sans-serif" font-size="20">60</text>
<rect x="796.7" y="56.7" width="393.3" height="370" fill="none" stroke="#000" stroke-opacity="0.35" stroke-width="1.4"/>
<path d="M796.7 426.7V438.2M796.7 56.7V45.2M895 426.7V438.2M895 56.7V45.2M993.4 426.7V438.2M993.4 56.7V45.2M1091.7 426.7V438.2M1091.7 56.7V45.2M1190 426.7V438.2M1190 56.7V45.2M796.7 426.7H785.2M1190 426.7H1201.5M796.7 365H785.2M1190 365H1201.5M796.7 303.4H785.2M1190 303.4H1201.5M796.7 241.7H785.2M1190 241.7H1201.5M796.7 180H785.2M1190 180H1201.5M796.7 118.4H785.2M1190 118.4H1201.5M796.7 56.7H785.2M1190 56.7H1201.5" stroke="#999" stroke-width="1.3" fill="none"/>
<text x="796.7" y="464.6" text-anchor="middle" fill="#404040" font-family="Liberation Sans, Arial, sans-serif" font-size="20">0</text>
<text x="895" y="464.6" text-anchor="middle" fill="#404040" font-family="Liberation Sans, Arial, sans-serif" font-size="20">5</text>
<text x="993.4" y="464.6" text-anchor="middle" fill="#404040" font-family="Liberation Sans, Arial, sans-serif" font-size="20">10</text>
<text x="1091.7" y="464.6" text-anchor="middle" fill="#404040" font-family="Liberation Sans, Arial, sans-serif" font-size="20">15</text>
<text x="1190" y="464.6" text-anchor="middle" fill="#404040" font-family="Liberation Sans, Arial, sans-serif" font-size="20">20</text>
<text x="777.8" y="433.9" text-anchor="end" fill="#404040" font-family="Liberation Sans, Arial, sans-serif" font-size="20">0</text>
<text x="777.8" y="372.2" text-anchor="end" fill="#404040" font-family="Liberation Sans, Arial, sans-serif" font-size="20">10</text>
<text x="777.8" y="310.5" text-anchor="end" fill="#404040" font-family="Liberation Sans, Arial, sans-serif" font-size="20">20</text>
<text x="777.8" y="248.9" text-anchor="end" fill="#404040" font-family="Liberation Sans, Arial, sans-serif" font-size="20">30</text>
<text x="777.8" y="187.2" text-anchor="end" fill="#404040" font-family="Liberation Sans, Arial, sans-serif" font-size="20">40</text>
<text x="777.8" y="125.5" text-anchor="end" fill="#404040" font-family="Liberation Sans, Arial, sans-serif" font-size="20">50</text>
<text x="777.8" y="63.9" text-anchor="end" fill="#404040" font-family="Liberation Sans, Arial, sans-serif" font-size="20">60</text>
<rect x="457.6" y="543.6" width="415.7" height="360" fill="none" stroke="#000" stroke-opacity="0.35" stroke-width="1.4"/>
<path d="M457.6 903.6V899.3M457.6 543.6V547.9M561.5 903.6V899.3M561.5 543.6V547.9M665.5 903.6V899.3M665.5 543.6V547.9M769.4 903.6V899.3M769.4 543.6V547.9M873.3 903.6V899.3M873.3 543.6V547.9M457.6 903.6H461.9M873.3 903.6H869M457.6 813.6H461.9M873.3 813.6H869M457.6 723.6H461.9M873.3 723.6H869M457.6 633.6H461.9M873.3 633.6H869M457.6 543.6H461.9M873.3 543.6H869" stroke="#333" stroke-width="1" fill="none"/>
<text x="457.6" y="933.2" text-anchor="middle" fill="#262626" font-family="Liberation Sans, Arial, sans-serif" font-size="21.5">0</text>
<text x="561.5" y="933.2" text-anchor="middle" fill="#262626" font-family="Liberation Sans, Arial, sans-serif" font-size="21.5">5</text>
<text x="665.5" y="933.2" text-anchor="middle" fill="#262626" font-family="Liberation Sans, Arial, sans-serif" font-size="21.5">10</text>
<text x="769.4" y="933.2" text-anchor="middle" fill="#262626" font-family="Liberation Sans, Arial, sans-serif" font-size="21.5">15</text>
<text x="873.3" y="933.2" text-anchor="middle" fill="#262626" font-family="Liberation Sans, Arial, sans-serif" font-size="21.5">20</text>
<text x="449.2" y="911.3" text-anchor="end" fill="#262626" font-family="Liberation Sans, Arial, sans-serif" font-size="21.5">0</text>
<text x="449.2" y="821.3" text-anchor="end" fill="#262626" font-family="Liberation Sans, Arial, sans-serif" font-size="21.5">5</text>
<text x="449.2" y="731.3" text-anchor="end" fill="#262626" font-family="Liberation Sans, Arial, sans-serif" font-size="21.5">10</text>
<text x="449.2" y="641.3" text-anchor="end" fill="#262626" font-family="Liberation Sans, Arial, sans-serif" font-size="21.5">15</text>
<text x="449.2" y="551.3" text-anchor="end" fill="#262626" font-family="Liberation Sans, Arial, sans-serif" font-size="21.5">20</text>
<rect x="565" y="56.7" width="29.8" height="370" fill="url(#par)" stroke="#888" stroke-width="0.8"/>
<text x="601.3" y="107.7" fill="#404040" font-family="Liberation Sans, Arial, sans-serif" font-size="19">-2</text>
<text x="601.3" y="158.2" fill="#404040" font-family="Liberation Sans, Arial, sans-serif" font-size="19">-3</text>
<text x="601.3" y="208.7" fill="#404040" font-family="Liberation Sans, Arial, sans-serif" font-size="19">-4</text>
<text x="601.3" y="259.2" fill="#404040" font-family="Liberation Sans, Arial, sans-serif" font-size="19">-5</text>
<text x="601.3" y="309.6" fill="#404040" font-family="Liberation Sans, Arial, sans-serif" font-size="19">-6</text>
<text x="601.3" y="360.1" fill="#404040" font-family="Liberation Sans, Arial, sans-serif" font-size="19">-7</text>
<text x="601.3" y="410.6" fill="#404040" font-family="Liberation Sans, Arial, sans-serif" font-size="19">-8</text>
<path d="M594.8 102.1H590.8M594.8 152.6H590.8M594.8 203.1H590.8M594.8 253.6H590.8M594.8 304H590.8M594.8 354.5H590.8M594.8 405H590.8" stroke="#333" stroke-width="1" fill="none"/>
<rect x="1215.3" y="56.8" width="29.4" height="369.7" fill="url(#par)" stroke="#888" stroke-width="0.8"/>
<text x="1251.3" y="96.4" fill="#404040" font-family="Liberation Sans, Arial, sans-serif" font-size="19">-1</text>
<text x="1251.3" y="149.6" fill="#404040" font-family="Liberation Sans, Arial, sans-serif" font-size="19">-2</text>
<text x="1251.3" y="202.8" fill="#404040" font-family="Liberation Sans, Arial, sans-serif" font-size="19">-3</text>
<text x="1251.3" y="256" fill="#404040" font-family="Liberation Sans, Arial, sans-serif" font-size="19">-4</text>
<text x="1251.3" y="309.2" fill="#404040" font-family="Liberation Sans, Arial, sans-serif" font-size="19">-5</text>
<text x="1251.3" y="362.4" fill="#404040" font-family="Liberation Sans, Arial, sans-serif" font-size="19">-6</text>
<text x="1251.3" y="415.6" fill="#404040" font-family="Liberation Sans, Arial, sans-serif" font-size="19">-7</text>
<path d="M1244.7 90.8H1240.7M1244.7 144H1240.7M1244.7 197.2H1240.7M1244.7 250.4H1240.7M1244.7 303.6H1240.7M1244.7 356.8H1240.7M1244.7 410H1240.7" stroke="#333" stroke-width="1" fill="none"/>
<rect x="901.2" y="543.5" width="29.2" height="355.7" fill="url(#par)" stroke="#888" stroke-width="0.8"/>
<text x="937.3" y="588.6" fill="#404040" font-family="Liberation Sans, Arial, sans-serif" font-size="19">-1</text>
<text x="937.3" y="647.4" fill="#404040" font-family="Liberation Sans, Arial, sans-serif" font-size="19">-2</text>
<text x="937.3" y="706.3" fill="#404040" font-family="Liberation Sans, Arial, sans-serif" font-size="19">-3</text>
<text x="937.3" y="765.2" fill="#404040" font-family="Liberation Sans, Arial, sans-serif" font-size="19">-4</text>
<text x="937.3" y="824.1" fill="#404040" font-family="Liberation Sans, Arial, sans-serif" font-size="19">-5</text>
<text x="937.3" y="883" fill="#404040" font-family="Liberation Sans, Arial, sans-serif" font-size="19">-6</text>
<path d="M930.4 583H926.4M930.4 641.8H926.4M930.4 700.7H926.4M930.4 759.6H926.4M930.4 818.5H926.4M930.4 877.4H926.4" stroke="#333" stroke-width="1" fill="none"/>
<text x="343.2" y="51.4" text-anchor="middle" fill="#000" font-family="Liberation Sans, Arial, sans-serif" font-weight="bold" font-size="22.5">10% DoD</text>
<text x="993.4" y="51.4" text-anchor="middle" fill="#000" font-family="Liberation Sans, Arial, sans-serif" font-weight="bold" font-size="22.5">80% DoD</text>
<text x="19.3" y="55.7" fill="#000" font-family="Liberation Sans, Arial, sans-serif" font-weight="bold" font-size="27.5">(a)</text>
<text x="672.3" y="55.7" fill="#000" font-family="Liberation Sans, Arial, sans-serif" font-weight="bold" font-size="27.5">(b)</text>
<text x="336.6" y="576.0" fill="#000" font-family="Liberation Sans, Arial, sans-serif" font-weight="bold" font-size="27.5">(c)</text>
<text x="138.6" y="496.6" fill="#000" font-family="Liberation Sans, Arial, sans-serif" font-weight="bold" font-size="22.4">Cathode diffusion time constant <tspan dx="3.5">(x10</tspan><tspan font-size="12.5" dy="-7.7">3</tspan><tspan dy="7.7"> s)</tspan></text>
<text x="788.6" y="497.2" fill="#000" font-family="Liberation Sans, Arial, sans-serif" font-weight="bold" font-size="22.4">Cathode diffusion time constant <tspan dx="3.5">(x10</tspan><tspan font-size="12.5" dy="-7.7">3</tspan><tspan dy="7.7"> s)</tspan></text>
<text x="456.2" y="966.5" fill="#000" font-family="Liberation Sans, Arial, sans-serif" font-weight="bold" font-size="22.4">Cathode diffusion time constant <tspan dx="3.5">(x10</tspan><tspan font-size="12.5" dy="-7.7">3</tspan><tspan dy="7.7"> s)</tspan></text>
<text transform="translate(91,453.7) rotate(-90)" fill="#000" font-family="Liberation Sans, Arial, sans-serif" font-weight="bold" font-size="22.4">Anode diffusion time constant <tspan dx="3.5">(x10</tspan><tspan font-size="12.5" dy="-7.7">3</tspan><tspan dy="7.7"> s)</tspan></text>
<text transform="translate(741.5,455) rotate(-90)" fill="#000" font-family="Liberation Sans, Arial, sans-serif" font-weight="bold" font-size="22.4">Anode diffusion time constant <tspan dx="3.5">(x10</tspan><tspan font-size="12.5" dy="-7.7">3</tspan><tspan dy="7.7"> s)</tspan></text>
<text transform="translate(411,947.7) rotate(-90)" fill="#000" font-family="Liberation Sans, Arial, sans-serif" font-weight="bold" font-size="22.4">Anode diffusion time constant <tspan dx="3.5">(x10</tspan><tspan font-size="12.5" dy="-7.7">3</tspan><tspan dy="7.7"> s)</tspan></text>
</svg>
<div class="cl" style="top:1006.00px;text-align:justify;text-align-last:justify;"><b>Figure 1:</b> Contour plots of the cost function for the parameter estimation of the single-</div>
<div class="cl" style="top:1043.00px;text-align:justify;text-align-last:justify;">particle model as a function of estimated anode and cathode diffusion parameters</div>
<div class="cl" style="top:1080.50px;text-align:justify;text-align-last:justify;">(diffusion time constants) based on <b>(a)</b> EIS data at 10% DoD, <b>(b)</b> EIS data at 80% DoD,</div>
<div class="cl" style="top:1116.80px;text-align:left;">and <b>(c)</b> combined EIS data at 10% and 80% DoD.</div>
<div class="bl" style="left:0;top:0;width:9px;height:1172px"></div>
<div class="bl" style="left:1271px;top:0;width:9px;height:1172px"></div>
<div class="bl" style="left:0;top:1159px;width:1280px;height:13px"></div>
</body></html>
